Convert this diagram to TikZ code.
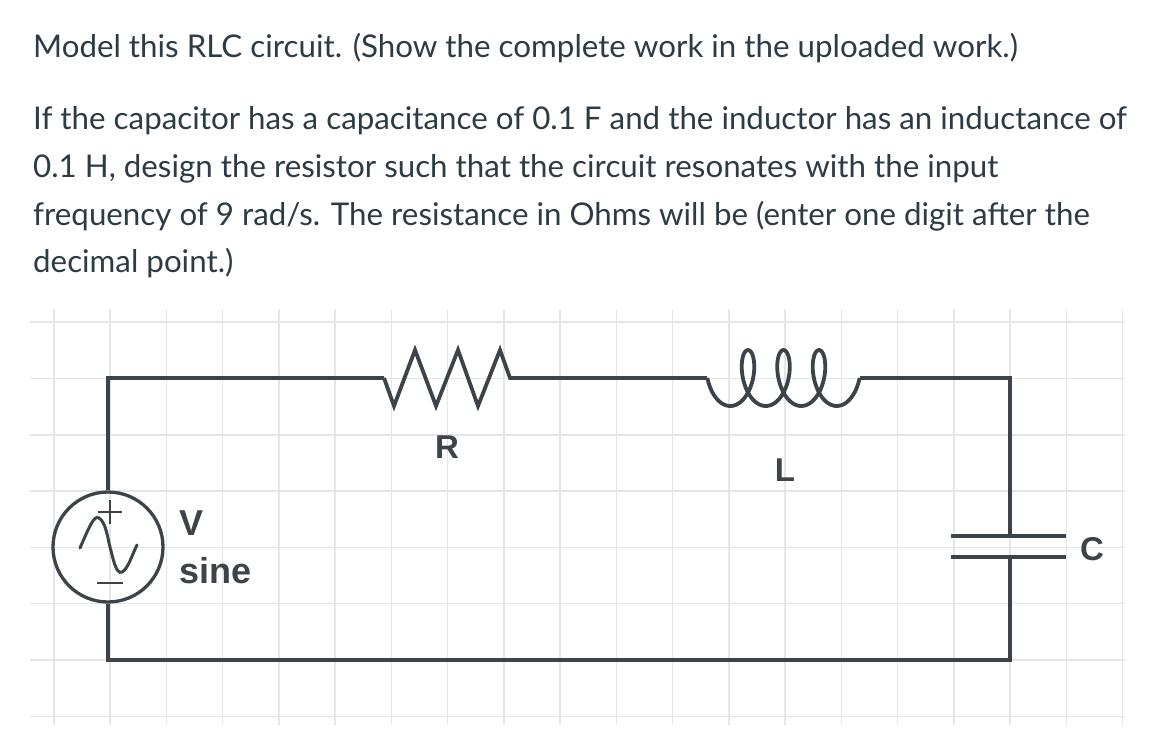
\documentclass[tikz,border=0pt]{standalone}
\usepackage{fontspec}
\setmainfont{Lato}
\newfontfamily\arialf{Liberation Sans}
\definecolor{txt}{HTML}{2D3B45}
\definecolor{wire}{HTML}{3D4449}
\definecolor{gridc}{HTML}{E6E6E6}
\begin{document}
\begin{tikzpicture}[x=1pt,y=-1pt,
  qline/.style={anchor=base west,inner sep=0,text=txt,font=\fontsize{31.3}{31}\selectfont},
  wirest/.style={draw=wire,line width=3.8pt,line join=miter},
  lbl/.style={text=wire,inner sep=0,font=\arialf\bfseries\fontsize{33}{33}\selectfont}]
\useasboundingbox (0,0) rectangle (1151,753);
\fill[white] (0,0) rectangle (1151,753);
% text
\node[qline] (t1) at (33,57) {Model this RLC circuit. (Show the complete work in the uploaded work.)};
\node[qline] (t2) at (33,129) {If the capacitor has a capacitance of 0.1 F and the inductor has an inductance of};
\node[qline] (t3) at (33,177) {0.1 H, design the resistor such that the circuit resonates with the input};
\node[qline] (t4) at (33,225) {frequency of 9 rad/s. The resistance in Ohms will be (enter one digit after the};
\node[qline] (t5) at (33,272) {decimal point.)};
% grid
\foreach \i in {-1,...,18} \draw[gridc,line width=1.5pt] ({110+56.25*\i},309) -- ({110+56.25*\i},725);
\foreach \j in {-1,...,6} \draw[gridc,line width=1.5pt] (30,{378.5+56.3*\j}) -- (1125,{378.5+56.3*\j});
% coordinates
\coordinate (tl) at (108,378);
\coordinate (ra) at (384,378);
\coordinate (rb) at (510,378);
\coordinate (la) at (707,378);
\coordinate (lb) at (860,378);
\coordinate (tr) at (1010,378);
\coordinate (ct) at (1010,536);
\coordinate (cb) at (1010,557);
\coordinate (br) at (1010,660);
\coordinate (bl) at (108,660);
\node[circle,draw=wire,line width=3.3pt,minimum size=110pt,inner sep=0] (src) at (108,547) {};
% wires
\draw[wirest] (src.north) -- (tl) -- (ra);
\draw[wirest] (ra) -- (394,406) -- (415,350) -- (436,406) -- (458,350) -- (478,406) -- (500,350) -- (rb) -- (la);
\draw[wirest,line join=round] plot[domain=-4.712:17.279,samples=200,smooth] ({748+5.65*\x-14*sin(\x r)},{378-28*cos(\x r)});
\draw[wirest] (lb) -- (tr) -- (ct);
\draw[wirest] (cb) -- (br) -- (bl) -- (src.south);
\draw[draw=wire,line width=3.3pt] (951,536) -- (1066,536);
\draw[draw=wire,line width=3.3pt] (951,557) -- (1066,557);
% source symbol
\draw[draw=wire,line width=3pt,line cap=round] (80,548) .. controls (88,530) and (94,514) .. (99,518)
  .. controls (106,522) and (108,540) .. (110,547)
  .. controls (113,558) and (116,575) .. (122,572)
  .. controls (128,569) and (132,555) .. (137,545);
\draw[draw=wire,line width=2.4pt] (98,512) -- (122,512) (110,500) -- (110,524);
\draw[draw=wire,line width=2.4pt] (97,583) -- (123,583);
% labels
\node[lbl,anchor=center] (rl) at (447,447) {R};
\node[lbl,anchor=center] (ll) at (785,470) {L};
\node[lbl,anchor=center] (cl) at (1092,549) {C};
\node[lbl,anchor=west,font=\arialf\bfseries\fontsize{36}{36}\selectfont] (vl) at (179,523) {V};
\node[lbl,anchor=west,font=\arialf\bfseries\fontsize{36}{36}\selectfont] (sl) at (179,571) {sine};
\end{tikzpicture}
\end{document}
